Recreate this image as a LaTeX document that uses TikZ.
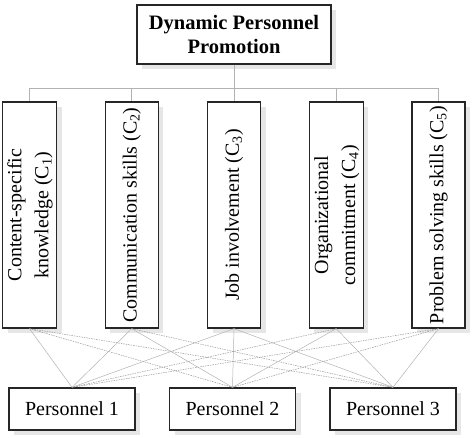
\documentclass[tikz,border=0pt]{standalone}
\usepackage{fontspec}
\setmainfont{Liberation Serif}
\usetikzlibrary{shadows}
\begin{document}
\begin{tikzpicture}[x=1pt,y=-1pt,
  box/.style={draw=black!85, line width=1.3pt, fill=white, inner sep=0pt,
    drop shadow={shadow xshift=5pt, shadow yshift=-5pt, fill=black!12, opacity=0.8}},
  titlebox/.style={box, minimum width=194pt, minimum height=59pt, align=center,
    font=\bfseries\fontsize{20.5}{23.5}\selectfont},
  critbox/.style={box, minimum width=53pt, minimum height=226pt,
    font=\fontsize{20}{27}\selectfont},
  perbox/.style={box, minimum width=126pt, minimum height=42pt,
    font=\fontsize{20}{24}\selectfont},
  tree/.style={draw=black!30, line width=0.6pt},
  link/.style={draw=black!30, line width=0.5pt},
  farlink/.style={draw=black!40, line width=0.5pt, dash pattern=on 1.5pt off 1pt}]
\useasboundingbox (0,0) rectangle (474,438);

\node[titlebox] (top) at (234,34.5) {Dynamic Personnel\\Promotion};

\node[critbox] (c1) at (29.5,215) {\rotatebox{90}{\begin{tabular}{@{}c@{}}Content-specific\\knowledge (C\textsubscript{1})\end{tabular}}};
\node[critbox] (c2) at (131.75,215) {\rotatebox{90}{Communication skills (C\textsubscript{2})}};
\node[critbox] (c3) at (234,215) {\rotatebox{90}{Job involvement (C\textsubscript{3})}};
\node[critbox] (c4) at (336.25,215) {\rotatebox{90}{\begin{tabular}{@{}c@{}}Organizational\\commitment (C\textsubscript{4})\end{tabular}}};
\node[critbox] (c5) at (438.5,215) {\rotatebox{90}{Problem solving skills (C\textsubscript{5})}};

\node[perbox] (p1) at (72,409) {Personnel 1};
\node[perbox] (p2) at (232.5,409) {Personnel 2};
\node[perbox] (p3) at (393,409) {Personnel 3};

\coordinate (h) at (234,88);
\draw[tree] (top.south) -- (top.south |- h);
\draw[tree] (c1.north |- h) -- (c5.north |- h);
\foreach \c in {c1,c2,c3,c4,c5}{
  \draw[tree] (\c.north |- h) -- (\c.north);
}

\draw[link] (c1.south) -- (p1.north);
\draw[farlink] (c1.south) -- (p2.north);
\draw[farlink] (c1.south) -- (p3.north);
\draw[link] (c2.south) -- (p1.north);
\draw[link] (c2.south) -- (p2.north);
\draw[farlink] (c2.south) -- (p3.north);
\draw[link] (c3.south) -- (p1.north);
\draw[link] (c3.south) -- (p2.north);
\draw[link] (c3.south) -- (p3.north);
\draw[farlink] (c4.south) -- (p1.north);
\draw[link] (c4.south) -- (p2.north);
\draw[link] (c4.south) -- (p3.north);
\draw[farlink] (c5.south) -- (p1.north);
\draw[farlink] (c5.south) -- (p2.north);
\draw[link] (c5.south) -- (p3.north);
\end{tikzpicture}
\end{document}
